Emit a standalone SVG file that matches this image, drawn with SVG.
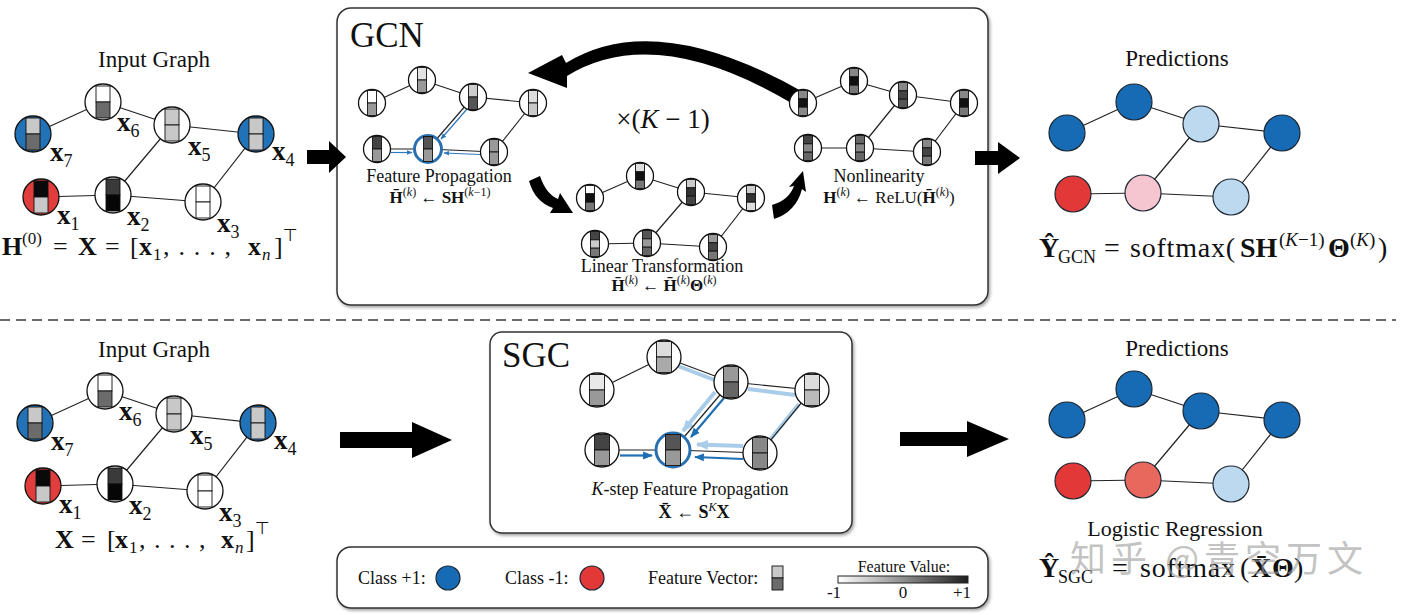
<svg xmlns="http://www.w3.org/2000/svg" width="1412" height="615" viewBox="0 0 1412 615">
<defs>
<style>
text{font-family:"Liberation Serif","Times New Roman",serif;fill:#111}
.e{stroke:#222;stroke-width:1.2;fill:none}
.nd{fill:#fff;stroke:#111;stroke-width:1.3}
.ndb{fill:#2272b8;stroke:#111;stroke-width:1.3}
.ndr{fill:#e23d3d;stroke:#111;stroke-width:1.3}
.hl{fill:#fff;stroke:#2a70b0;stroke-width:3}
.fv{stroke:#111;stroke-width:0.9}
.pdb{fill:#166bb4;stroke:#1c2733;stroke-width:1.2}
.plb{fill:#bdd9ef;stroke:#1c2733;stroke-width:1.2}
.prd{fill:#e23838;stroke:#1c2733;stroke-width:1.2}
.ppk{fill:#f6c6d0;stroke:#1c2733;stroke-width:1.2}
.psa{fill:#e8685d;stroke:#1c2733;stroke-width:1.2}
.lb{font-weight:bold;font-size:27px}
.sub{font-weight:normal;font-size:18px}
.ttl{font-size:23px}
.cap{font-size:18px}
.box{fill:#fff;stroke:#333;stroke-width:1.5}
.blk{fill:#000}
.bt{stroke:#2f78bd;stroke-width:1.2;fill:none}
.bd{stroke:#1f6fb4;stroke-width:2.2;fill:none}
.bl{stroke:#a9cce9;stroke-width:4;fill:none}
.lg{font-size:18px}
</style>
<marker id="mt" viewBox="0 0 10 10" refX="9" refY="5" markerWidth="5" markerHeight="5" orient="auto" markerUnits="strokeWidth"><path d="M0,1 L10,5 L0,9 z" fill="#2f78bd"/></marker>
<marker id="md" viewBox="0 0 10 10" refX="9" refY="5" markerWidth="4.5" markerHeight="4.5" orient="auto" markerUnits="strokeWidth"><path d="M0,1 L10,5 L0,9 z" fill="#1f6fb4"/></marker>
<marker id="ml" viewBox="0 0 10 10" refX="9" refY="5" markerWidth="3" markerHeight="3" orient="auto" markerUnits="strokeWidth"><path d="M0,1 L10,5 L0,9 z" fill="#a9cce9"/></marker>
<linearGradient id="grad" x1="0" y1="0" x2="1" y2="0"><stop offset="0" stop-color="#ffffff"/><stop offset="1" stop-color="#1e1e1e"/></linearGradient>
<filter id="sh" x="-5%" y="-5%" width="110%" height="115%"><feDropShadow dx="1.5" dy="2" stdDeviation="1.5" flood-color="#000" flood-opacity="0.35"/></filter>
</defs>
<rect width="1412" height="615" fill="#fff"/>

<!-- boxes -->
<g id="gcn-box"><rect class="box" x="337" y="8" width="651" height="297" rx="14" filter="url(#sh)"/><text x="350" y="47" font-size="35">GCN</text></g>
<g id="sgc-box"><rect class="box" x="490" y="332" width="362" height="201" rx="12" filter="url(#sh)"/><text x="502" y="367" font-size="35">SGC</text></g>
<line x1="0" y1="320" x2="1396" y2="320" stroke="#6a6a6a" stroke-width="2" stroke-dasharray="10 6"/>

<!-- connectors -->
<g id="connectors">
<line class="e" x1="33" y1="134" x2="103" y2="102"/><line class="e" x1="103" y1="102" x2="172" y2="125"/><line class="e" x1="172" y1="125" x2="256" y2="134"/><line class="e" x1="172" y1="125" x2="113" y2="195"/><line class="e" x1="41" y1="197" x2="113" y2="195"/><line class="e" x1="113" y1="195" x2="203" y2="202"/><line class="e" x1="203" y1="202" x2="256" y2="134"/>
<line class="e" x1="35" y1="423" x2="105" y2="391"/><line class="e" x1="105" y1="391" x2="174" y2="414"/><line class="e" x1="174" y1="414" x2="258" y2="423"/><line class="e" x1="174" y1="414" x2="115" y2="484"/><line class="e" x1="43" y1="486" x2="115" y2="484"/><line class="e" x1="115" y1="484" x2="205" y2="491"/><line class="e" x1="205" y1="491" x2="258" y2="423"/>
<line class="e" x1="372" y1="103" x2="422" y2="80"/><line class="e" x1="422" y1="80" x2="473" y2="97"/><line class="e" x1="473" y1="97" x2="533" y2="103"/><line class="e" x1="473" y1="97" x2="428" y2="149"/><line class="e" x1="533" y1="103" x2="494" y2="152"/><line class="e" x1="377" y1="149" x2="428" y2="149"/><line class="e" x1="428" y1="149" x2="494" y2="152"/>
<line class="bt" x1="391" y1="152.5" x2="412" y2="152.5" marker-end="url(#mt)"/><line class="bt" x1="480" y1="154.5" x2="444" y2="153" marker-end="url(#mt)"/><line class="bt" x1="467" y1="109" x2="441" y2="139" marker-end="url(#mt)"/>
<line class="e" x1="590" y1="198" x2="640" y2="176"/><line class="e" x1="640" y1="176" x2="691" y2="192"/><line class="e" x1="691" y1="192" x2="751" y2="198"/><line class="e" x1="691" y1="192" x2="647" y2="243"/><line class="e" x1="751" y1="198" x2="713" y2="247"/><line class="e" x1="595" y1="244" x2="647" y2="243"/><line class="e" x1="647" y1="243" x2="713" y2="247"/>
<line class="e" x1="803" y1="103" x2="854" y2="81"/><line class="e" x1="854" y1="81" x2="903" y2="95"/><line class="e" x1="903" y1="95" x2="964" y2="103"/><line class="e" x1="903" y1="95" x2="860" y2="148"/><line class="e" x1="964" y1="103" x2="927" y2="152"/><line class="e" x1="808" y1="148" x2="860" y2="148"/><line class="e" x1="860" y1="148" x2="927" y2="152"/>
<line class="bl" x1="678" y1="366" x2="717" y2="381"/><line class="bl" x1="748" y1="389" x2="795" y2="395"/><line class="bl" x1="799" y1="404" x2="769" y2="441"/>
<line class="bl" x1="743" y1="446" x2="697" y2="444.5" marker-end="url(#ml)"/><line class="bl" x1="715" y1="392" x2="683" y2="431" marker-end="url(#ml)"/>
<line class="e" x1="597" y1="390" x2="664" y2="357"/><line class="e" x1="664" y1="357" x2="731" y2="382"/><line class="e" x1="731" y1="382" x2="812" y2="390"/><line class="e" x1="731" y1="382" x2="673" y2="450"/><line class="e" x1="812" y1="390" x2="760" y2="453"/><line class="e" x1="602" y1="450" x2="673" y2="450"/><line class="e" x1="673" y1="450" x2="760" y2="453"/>
<line class="bd" x1="724" y1="398" x2="691" y2="437" marker-end="url(#md)"/><line class="bd" x1="620" y1="455.5" x2="652" y2="455.5" marker-end="url(#md)"/><line class="bd" x1="743" y1="459" x2="695" y2="457" marker-end="url(#md)"/>
<line class="e" x1="1067" y1="133" x2="1134" y2="102"/><line class="e" x1="1134" y1="102" x2="1201" y2="124"/><line class="e" x1="1201" y1="124" x2="1282" y2="133"/><line class="e" x1="1201" y1="124" x2="1143" y2="193"/><line class="e" x1="1282" y1="133" x2="1231" y2="197"/><line class="e" x1="1073" y1="194" x2="1143" y2="193"/><line class="e" x1="1143" y1="193" x2="1231" y2="197"/>
<line class="e" x1="1067" y1="420" x2="1134" y2="389"/><line class="e" x1="1134" y1="389" x2="1201" y2="411"/><line class="e" x1="1201" y1="411" x2="1282" y2="420"/><line class="e" x1="1201" y1="411" x2="1143" y2="480"/><line class="e" x1="1282" y1="420" x2="1231" y2="484"/><line class="e" x1="1073" y1="481" x2="1143" y2="480"/><line class="e" x1="1143" y1="480" x2="1231" y2="484"/>
<path class="blk" d="M307,150 H329 V141 L346,157 L329,173 V164 H307 Z"/>
<path class="blk" d="M975,151 H998 V142 L1020,158 L998,174 V165 H975 Z"/>
<path class="blk" d="M340,432 H412 V422 L452,440 L412,458 V448 H340 Z"/>
<path class="blk" d="M900,432 H967 V421 L1009,439 L967,457 V446 H900 Z"/>
<path class="blk" d="M803,92 Q655,8 566,63 L562,55 L528,73 L567,88 L567,76 Q655,22 793,104 Z"/>
<path class="blk" d="M529,181 L540,176 Q546,194 558,199 L560,193 L573,213 L550,213 L553,208 Q535,202 529,181 Z"/>
<path class="blk" d="M772,205 Q789,200 794,186 L789,187 L803,171 L806,192 L802,189 Q796,212 774,219 Z"/>
</g>

<!-- input graph top -->
<g id="in-t-x7" transform="translate(33,134)"><circle class="ndb" r="18"/><rect class="fv" x="-7" y="-16" width="14" height="16" fill="#c8c8c8"/><rect class="fv" x="-7" y="0" width="14" height="16" fill="#6b6b6b"/></g>
<g id="in-t-x6" transform="translate(103,102)"><circle class="nd" r="18"/><rect class="fv" x="-7" y="-16" width="14" height="16" fill="#fff"/><rect class="fv" x="-7" y="0" width="14" height="16" fill="#6b6b6b"/></g>
<g id="in-t-x5" transform="translate(172,125)"><circle class="nd" r="18"/><rect class="fv" x="-7" y="-16" width="14" height="16" fill="#c8c8c8"/><rect class="fv" x="-7" y="0" width="14" height="16" fill="#c8c8c8"/></g>
<g id="in-t-x4" transform="translate(256,134)"><circle class="ndb" r="18"/><rect class="fv" x="-7" y="-16" width="14" height="16" fill="#c8c8c8"/><rect class="fv" x="-7" y="0" width="14" height="16" fill="#c8c8c8"/></g>
<g id="in-t-x1" transform="translate(41,197)"><circle class="ndr" r="18"/><rect class="fv" x="-7" y="-16" width="14" height="16" fill="#0a0a0a"/><rect class="fv" x="-7" y="0" width="14" height="16" fill="#c8c8c8"/></g>
<g id="in-t-x2" transform="translate(113,195)"><circle class="nd" r="18"/><rect class="fv" x="-7" y="-16" width="14" height="16" fill="#3a3a3a"/><rect class="fv" x="-7" y="0" width="14" height="16" fill="#060606"/></g>
<g id="in-t-x3" transform="translate(203,202)"><circle class="nd" r="18"/><rect class="fv" x="-7" y="-16" width="14" height="16" fill="#fff"/><rect class="fv" x="-7" y="0" width="14" height="16" fill="#fff"/></g>
<g id="in-t-labels">
<text class="ttl" x="154" y="67" text-anchor="middle">Input Graph</text>
<text class="lb" x="50" y="161">x<tspan class="sub" dy="6">7</tspan></text>
<text class="lb" x="117" y="131">x<tspan class="sub" dy="6">6</tspan></text>
<text class="lb" x="188" y="155">x<tspan class="sub" dy="6">5</tspan></text>
<text class="lb" x="272" y="160">x<tspan class="sub" dy="6">4</tspan></text>
<text class="lb" x="57" y="224">x<tspan class="sub" dy="6">1</tspan></text>
<text class="lb" x="127" y="225">x<tspan class="sub" dy="6">2</tspan></text>
<text class="lb" x="217" y="232">x<tspan class="sub" dy="6">3</tspan></text>
<text font-size="26" y="255"><tspan x="2" font-weight="bold">H</tspan><tspan x="22" y="244" font-size="17">(0)</tspan><tspan x="53" y="255">=</tspan><tspan x="78" font-weight="bold">X</tspan><tspan x="105">=</tspan><tspan x="130">[</tspan><tspan x="139" font-weight="bold">x</tspan><tspan x="153" y="260" font-size="17">1</tspan><tspan x="163" y="255" letter-spacing="1.2">,  . . .  ,</tspan><tspan x="248" font-weight="bold">x</tspan><tspan x="262" y="260" font-size="17" font-style="italic">n</tspan><tspan x="274" y="255">]</tspan><tspan x="283" y="241" font-size="17" font-family="DejaVu Sans">⊤</tspan></text>
</g>

<!-- input graph bottom -->
<g id="in-b-x7" transform="translate(35,423)"><circle class="ndb" r="18"/><rect class="fv" x="-7" y="-16" width="14" height="16" fill="#c8c8c8"/><rect class="fv" x="-7" y="0" width="14" height="16" fill="#6b6b6b"/></g>
<g id="in-b-x6" transform="translate(105,391)"><circle class="nd" r="18"/><rect class="fv" x="-7" y="-16" width="14" height="16" fill="#fff"/><rect class="fv" x="-7" y="0" width="14" height="16" fill="#6b6b6b"/></g>
<g id="in-b-x5" transform="translate(174,414)"><circle class="nd" r="18"/><rect class="fv" x="-7" y="-16" width="14" height="16" fill="#c8c8c8"/><rect class="fv" x="-7" y="0" width="14" height="16" fill="#c8c8c8"/></g>
<g id="in-b-x4" transform="translate(258,423)"><circle class="ndb" r="18"/><rect class="fv" x="-7" y="-16" width="14" height="16" fill="#c8c8c8"/><rect class="fv" x="-7" y="0" width="14" height="16" fill="#c8c8c8"/></g>
<g id="in-b-x1" transform="translate(43,486)"><circle class="ndr" r="18"/><rect class="fv" x="-7" y="-16" width="14" height="16" fill="#0a0a0a"/><rect class="fv" x="-7" y="0" width="14" height="16" fill="#c8c8c8"/></g>
<g id="in-b-x2" transform="translate(115,484)"><circle class="nd" r="18"/><rect class="fv" x="-7" y="-16" width="14" height="16" fill="#3a3a3a"/><rect class="fv" x="-7" y="0" width="14" height="16" fill="#060606"/></g>
<g id="in-b-x3" transform="translate(205,491)"><circle class="nd" r="18"/><rect class="fv" x="-7" y="-16" width="14" height="16" fill="#fff"/><rect class="fv" x="-7" y="0" width="14" height="16" fill="#fff"/></g>
<g id="in-b-labels">
<text class="ttl" x="154" y="357" text-anchor="middle">Input Graph</text>
<text class="lb" x="51" y="450">x<tspan class="sub" dy="6">7</tspan></text>
<text class="lb" x="119" y="420">x<tspan class="sub" dy="6">6</tspan></text>
<text class="lb" x="190" y="444">x<tspan class="sub" dy="6">5</tspan></text>
<text class="lb" x="274" y="449">x<tspan class="sub" dy="6">4</tspan></text>
<text class="lb" x="59" y="513">x<tspan class="sub" dy="6">1</tspan></text>
<text class="lb" x="129" y="514">x<tspan class="sub" dy="6">2</tspan></text>
<text class="lb" x="219" y="521">x<tspan class="sub" dy="6">3</tspan></text>
<text font-size="26" y="548"><tspan x="55" font-weight="bold">X</tspan><tspan x="81">=</tspan><tspan x="107">[</tspan><tspan x="115" font-weight="bold">x</tspan><tspan x="129" y="553" font-size="17">1</tspan><tspan x="139" y="548" letter-spacing="1">,  . . .  ,</tspan><tspan x="221" font-weight="bold">x</tspan><tspan x="235" y="553" font-size="17" font-style="italic">n</tspan><tspan x="246" y="548">]</tspan><tspan x="255" y="534" font-size="17" font-family="DejaVu Sans">⊤</tspan></text>
</g>

<!-- GCN: feature propagation -->
<g id="fp-a" transform="translate(372,103)"><circle class="nd" r="13.5"/><rect class="fv" x="-4.5" y="-12.5" width="9" height="12.5" fill="#fff"/><rect class="fv" x="-4.5" y="0" width="9" height="12.5" fill="#999"/></g>
<g id="fp-b" transform="translate(422,80)"><circle class="nd" r="13.5"/><rect class="fv" x="-4.5" y="-12.5" width="9" height="12.5" fill="#e2e2e2"/><rect class="fv" x="-4.5" y="0" width="9" height="12.5" fill="#999"/></g>
<g id="fp-c" transform="translate(473,97)"><circle class="nd" r="13.5"/><rect class="fv" x="-4.5" y="-12.5" width="9" height="12.5" fill="#ccc"/><rect class="fv" x="-4.5" y="0" width="9" height="12.5" fill="#555"/></g>
<g id="fp-d" transform="translate(533,103)"><circle class="nd" r="13.5"/><rect class="fv" x="-4.5" y="-12.5" width="9" height="12.5" fill="#ddd"/><rect class="fv" x="-4.5" y="0" width="9" height="12.5" fill="#c8c8c8"/></g>
<g id="fp-e" transform="translate(377,149)"><circle class="nd" r="13.5"/><rect class="fv" x="-4.5" y="-12.5" width="9" height="12.5" fill="#444"/><rect class="fv" x="-4.5" y="0" width="9" height="12.5" fill="#999"/></g>
<g id="fp-f" transform="translate(428,149)"><circle class="hl" r="13.5"/><rect class="fv" x="-4.5" y="-12.5" width="9" height="12.5" fill="#555"/><rect class="fv" x="-4.5" y="0" width="9" height="12.5" fill="#999"/></g>
<g id="fp-g" transform="translate(494,152)"><circle class="nd" r="13.5"/><rect class="fv" x="-4.5" y="-12.5" width="9" height="12.5" fill="#999"/><rect class="fv" x="-4.5" y="0" width="9" height="12.5" fill="#999"/></g>
<g id="fp-label">
<text class="cap" x="439" y="182" text-anchor="middle">Feature Propagation</text>
<text x="440" y="203" text-anchor="middle" font-size="17"><tspan font-weight="bold">H̄</tspan><tspan font-size="12" dy="-7">(<tspan font-style="italic">k</tspan>)</tspan><tspan dy="7"> ← </tspan><tspan font-weight="bold">SH</tspan><tspan font-size="12" dy="-7">(<tspan font-style="italic">k</tspan>−1)</tspan></text>
</g>

<!-- GCN: linear transformation -->
<g id="lt-a" transform="translate(590,198)"><circle class="nd" r="13.5"/><rect class="fv" x="-4.5" y="-12.5" width="9" height="8.33" fill="#fff"/><rect class="fv" x="-4.5" y="-4.17" width="9" height="8.33" fill="#111"/><rect class="fv" x="-4.5" y="4.17" width="9" height="8.33" fill="#777"/></g>
<g id="lt-b" transform="translate(640,176)"><circle class="nd" r="13.5"/><rect class="fv" x="-4.5" y="-12.5" width="9" height="8.33" fill="#ddd"/><rect class="fv" x="-4.5" y="-4.17" width="9" height="8.33" fill="#111"/><rect class="fv" x="-4.5" y="4.17" width="9" height="8.33" fill="#777"/></g>
<g id="lt-c" transform="translate(691,192)"><circle class="nd" r="13.5"/><rect class="fv" x="-4.5" y="-12.5" width="9" height="8.33" fill="#ccc"/><rect class="fv" x="-4.5" y="-4.17" width="9" height="8.33" fill="#333"/><rect class="fv" x="-4.5" y="4.17" width="9" height="8.33" fill="#444"/></g>
<g id="lt-d" transform="translate(751,198)"><circle class="nd" r="13.5"/><rect class="fv" x="-4.5" y="-12.5" width="9" height="8.33" fill="#ccc"/><rect class="fv" x="-4.5" y="-4.17" width="9" height="8.33" fill="#333"/><rect class="fv" x="-4.5" y="4.17" width="9" height="8.33" fill="#ddd"/></g>
<g id="lt-e" transform="translate(595,244)"><circle class="nd" r="13.5"/><rect class="fv" x="-4.5" y="-12.5" width="9" height="8.33" fill="#444"/><rect class="fv" x="-4.5" y="-4.17" width="9" height="8.33" fill="#ccc"/><rect class="fv" x="-4.5" y="4.17" width="9" height="8.33" fill="#777"/></g>
<g id="lt-f" transform="translate(647,243)"><circle class="nd" r="13.5"/><rect class="fv" x="-4.5" y="-12.5" width="9" height="8.33" fill="#555"/><rect class="fv" x="-4.5" y="-4.17" width="9" height="8.33" fill="#999"/><rect class="fv" x="-4.5" y="4.17" width="9" height="8.33" fill="#666"/></g>
<g id="lt-g" transform="translate(713,247)"><circle class="nd" r="13.5"/><rect class="fv" x="-4.5" y="-12.5" width="9" height="8.33" fill="#999"/><rect class="fv" x="-4.5" y="-4.17" width="9" height="8.33" fill="#444"/><rect class="fv" x="-4.5" y="4.17" width="9" height="8.33" fill="#777"/></g>
<g id="lt-label">
<text class="cap" x="662" y="272" text-anchor="middle">Linear Transformation</text>
<text x="664" y="291" text-anchor="middle" font-size="17"><tspan font-weight="bold">H̄</tspan><tspan font-size="12" dy="-7">(<tspan font-style="italic">k</tspan>)</tspan><tspan dy="7"> ← </tspan><tspan font-weight="bold">H̄</tspan><tspan font-size="12" dy="-7">(<tspan font-style="italic">k</tspan>)</tspan><tspan dy="7" font-weight="bold">Θ</tspan><tspan font-size="12" dy="-7">(<tspan font-style="italic">k</tspan>)</tspan></text>
</g>

<!-- GCN: nonlinearity -->
<g id="nl-a" transform="translate(803,103)"><circle class="nd" r="13.5"/><rect class="fv" x="-4.5" y="-12.5" width="9" height="8.33" fill="#888"/><rect class="fv" x="-4.5" y="-4.17" width="9" height="8.33" fill="#111"/><rect class="fv" x="-4.5" y="4.17" width="9" height="8.33" fill="#888"/></g>
<g id="nl-b" transform="translate(854,81)"><circle class="nd" r="13.5"/><rect class="fv" x="-4.5" y="-12.5" width="9" height="8.33" fill="#888"/><rect class="fv" x="-4.5" y="-4.17" width="9" height="8.33" fill="#111"/><rect class="fv" x="-4.5" y="4.17" width="9" height="8.33" fill="#777"/></g>
<g id="nl-c" transform="translate(903,95)"><circle class="nd" r="13.5"/><rect class="fv" x="-4.5" y="-12.5" width="9" height="8.33" fill="#888"/><rect class="fv" x="-4.5" y="-4.17" width="9" height="8.33" fill="#444"/><rect class="fv" x="-4.5" y="4.17" width="9" height="8.33" fill="#555"/></g>
<g id="nl-d" transform="translate(964,103)"><circle class="nd" r="13.5"/><rect class="fv" x="-4.5" y="-12.5" width="9" height="8.33" fill="#888"/><rect class="fv" x="-4.5" y="-4.17" width="9" height="8.33" fill="#111"/><rect class="fv" x="-4.5" y="4.17" width="9" height="8.33" fill="#777"/></g>
<g id="nl-e" transform="translate(808,148)"><circle class="nd" r="13.5"/><rect class="fv" x="-4.5" y="-12.5" width="9" height="8.33" fill="#444"/><rect class="fv" x="-4.5" y="-4.17" width="9" height="8.33" fill="#888"/><rect class="fv" x="-4.5" y="4.17" width="9" height="8.33" fill="#666"/></g>
<g id="nl-f" transform="translate(860,148)"><circle class="nd" r="13.5"/><rect class="fv" x="-4.5" y="-12.5" width="9" height="8.33" fill="#666"/><rect class="fv" x="-4.5" y="-4.17" width="9" height="8.33" fill="#888"/><rect class="fv" x="-4.5" y="4.17" width="9" height="8.33" fill="#666"/></g>
<g id="nl-g" transform="translate(927,152)"><circle class="nd" r="13.5"/><rect class="fv" x="-4.5" y="-12.5" width="9" height="8.33" fill="#888"/><rect class="fv" x="-4.5" y="-4.17" width="9" height="8.33" fill="#444"/><rect class="fv" x="-4.5" y="4.17" width="9" height="8.33" fill="#777"/></g>
<g id="nl-label">
<text class="cap" x="879" y="182" text-anchor="middle">Nonlinearity</text>
<text x="889" y="203" text-anchor="middle" font-size="17"><tspan font-weight="bold">H</tspan><tspan font-size="12" dy="-7">(<tspan font-style="italic">k</tspan>)</tspan><tspan dy="7"> ← ReLU(</tspan><tspan font-weight="bold">H̄</tspan><tspan font-size="12" dy="-7">(<tspan font-style="italic">k</tspan>)</tspan><tspan dy="7">)</tspan></text>
</g>
<text id="repeat-label" x="663" y="128" text-anchor="middle" font-size="27">×(<tspan font-style="italic">K</tspan> − 1)</text>

<!-- predictions top -->
<g id="pt-a"><circle class="pdb" cx="1067" cy="133" r="18"/></g>
<g id="pt-b"><circle class="pdb" cx="1134" cy="102" r="18"/></g>
<g id="pt-c"><circle class="plb" cx="1201" cy="124" r="18"/></g>
<g id="pt-d"><circle class="pdb" cx="1282" cy="133" r="18"/></g>
<g id="pt-e"><circle class="prd" cx="1073" cy="194" r="18"/></g>
<g id="pt-f"><circle class="ppk" cx="1143" cy="193" r="18"/></g>
<g id="pt-g"><circle class="plb" cx="1231" cy="197" r="18"/></g>
<g id="pt-labels">
<text class="ttl" x="1177" y="66" text-anchor="middle">Predictions</text>
<text font-size="28" y="257"><tspan x="1039" font-weight="bold">Ŷ</tspan><tspan x="1058" y="263" font-size="18">GCN</tspan><tspan x="1104" y="257">=</tspan><tspan x="1130" letter-spacing="0.8">softmax(</tspan><tspan x="1240" font-weight="bold">SH</tspan><tspan x="1279" y="246" font-size="19">(<tspan font-style="italic">K</tspan>−1)</tspan><tspan x="1328" y="257" font-weight="bold">Θ</tspan><tspan x="1350" y="246" font-size="19">(<tspan font-style="italic">K</tspan>)</tspan><tspan x="1378" y="257">)</tspan></text>
</g>

<!-- SGC -->
<g id="sgc-a" transform="translate(597,390)"><circle class="nd" r="17"/><rect class="fv" x="-7.5" y="-15.5" width="15" height="15.5" fill="#e8e8e8"/><rect class="fv" x="-7.5" y="0" width="15" height="15.5" fill="#999"/></g>
<g id="sgc-b" transform="translate(664,357)"><circle class="nd" r="17"/><rect class="fv" x="-7.5" y="-15.5" width="15" height="15.5" fill="#ddd"/><rect class="fv" x="-7.5" y="0" width="15" height="15.5" fill="#aaa"/></g>
<g id="sgc-c" transform="translate(731,382)"><circle class="nd" r="17"/><rect class="fv" x="-7.5" y="-15.5" width="15" height="15.5" fill="#999"/><rect class="fv" x="-7.5" y="0" width="15" height="15.5" fill="#666"/></g>
<g id="sgc-d" transform="translate(812,390)"><circle class="nd" r="17"/><rect class="fv" x="-7.5" y="-15.5" width="15" height="15.5" fill="#ddd"/><rect class="fv" x="-7.5" y="0" width="15" height="15.5" fill="#bbb"/></g>
<g id="sgc-e" transform="translate(602,450)"><circle class="nd" r="17"/><rect class="fv" x="-7.5" y="-15.5" width="15" height="15.5" fill="#444"/><rect class="fv" x="-7.5" y="0" width="15" height="15.5" fill="#999"/></g>
<g id="sgc-f" transform="translate(673,450)"><circle class="hl" r="17"/><rect class="fv" x="-7.5" y="-15.5" width="15" height="15.5" fill="#555"/><rect class="fv" x="-7.5" y="0" width="15" height="15.5" fill="#999"/></g>
<g id="sgc-g" transform="translate(760,453)"><circle class="nd" r="17"/><rect class="fv" x="-7.5" y="-15.5" width="15" height="15.5" fill="#888"/><rect class="fv" x="-7.5" y="0" width="15" height="15.5" fill="#888"/></g>
<g id="sgc-label">
<text class="cap" x="690" y="495" text-anchor="middle"><tspan font-style="italic">K</tspan>-step Feature Propagation</text>
<text x="694" y="518" text-anchor="middle" font-size="18"><tspan font-weight="bold">X̄</tspan> ← <tspan font-weight="bold">S</tspan><tspan font-size="12" dy="-7" font-style="italic">K</tspan><tspan dy="7" font-weight="bold">X</tspan></text>
</g>

<!-- predictions bottom -->
<g id="pb-a"><circle class="pdb" cx="1067" cy="420" r="18"/></g>
<g id="pb-b"><circle class="pdb" cx="1134" cy="389" r="18"/></g>
<g id="pb-c"><circle class="pdb" cx="1201" cy="411" r="18"/></g>
<g id="pb-d"><circle class="pdb" cx="1282" cy="420" r="18"/></g>
<g id="pb-e"><circle class="prd" cx="1073" cy="481" r="18"/></g>
<g id="pb-f"><circle class="psa" cx="1143" cy="480" r="18"/></g>
<g id="pb-g"><circle class="plb" cx="1231" cy="484" r="18"/></g>
<g id="pb-labels">
<text class="ttl" x="1177" y="356" text-anchor="middle">Predictions</text>
<text x="1175" y="536" text-anchor="middle" font-size="22">Logistic Regression</text>
<text font-size="28" y="577"><tspan x="1039" font-weight="bold">Ŷ</tspan><tspan x="1058" y="583" font-size="18">SGC</tspan><tspan x="1112" y="577">=</tspan><tspan x="1140" letter-spacing="0.8">softmax</tspan><tspan x="1240">(</tspan><tspan x="1251" font-weight="bold">X̄</tspan><tspan x="1272" font-weight="bold">Θ</tspan><tspan x="1294">)</tspan></text>
</g>

<!-- legend -->
<g id="legend">
<rect class="box" x="337" y="547" width="651" height="61" rx="14" filter="url(#sh)"/>
<text class="lg" x="358" y="584">Class +1:</text>
<circle cx="448" cy="578" r="12" fill="#166bb4" stroke="#1c2733" stroke-width="1.2"/>
<text class="lg" x="505" y="584">Class -1:</text>
<circle cx="592" cy="578" r="12" fill="#e23838" stroke="#1c2733" stroke-width="1.2"/>
<text class="lg" x="648" y="584">Feature Vector:</text>
<rect class="fv" x="772" y="566" width="11" height="12" fill="#c8c8c8"/><rect class="fv" x="772" y="578" width="11" height="12" fill="#6b6b6b"/>
<text x="904" y="572" text-anchor="middle" font-size="16">Feature Value:</text>
<rect x="838" y="576" width="130" height="7" fill="url(#grad)" stroke="#222" stroke-width="1"/>
<text x="834" y="598" text-anchor="middle" font-size="17">-1</text>
<text x="903" y="598" text-anchor="middle" font-size="17">0</text>
<text x="962" y="598" text-anchor="middle" font-size="17">+1</text>
</g>

<text id="watermark" x="1070" y="572" font-size="36" letter-spacing="5" style="font-family:'Noto Sans CJK SC','Noto Sans',sans-serif;fill:#9a9a9a;fill-opacity:0.6">知乎 @青空万文</text>
</svg>
